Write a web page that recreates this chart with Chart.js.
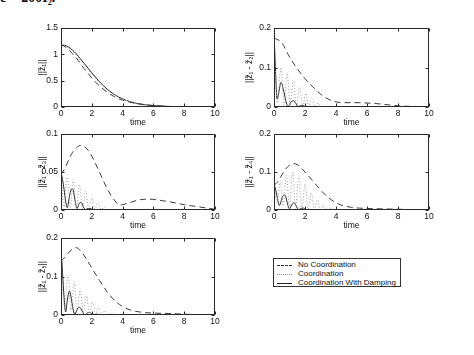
<!DOCTYPE html>
<html><head><meta charset="utf-8">
<script src="https://cdn.jsdelivr.net/npm/chart.js@4/dist/chart.umd.min.js"></script>
<style>
html,body{margin:0;padding:0;background:#fff;}
body{width:474px;height:355px;overflow:hidden;position:relative;font-family:"Liberation Sans",Arial,sans-serif;}
canvas{position:absolute;}
#topText{position:absolute;left:0;top:-9px;font-family:"Liberation Serif","Times New Roman",serif;font-weight:bold;font-size:14px;line-height:14px;white-space:nowrap;color:#111;}
#legend{position:absolute;left:273px;top:258px;width:128px;height:29px;border:1px solid #333;font-size:8px;color:#111;box-sizing:border-box;padding-top:1px;}
.row{position:relative;height:9px;line-height:9px;white-space:nowrap;}
.row span.s{position:absolute;left:3px;top:5px;width:15px;height:0;}
.row span.t{position:absolute;left:24px;top:0;}
</style></head><body>
<div id="topText">c = 200I₂.</div>
<canvas id="c1" width="206" height="108" style="left:21px;top:20px"></canvas>
<canvas id="c2" width="207" height="108" style="left:234px;top:20px"></canvas>
<canvas id="c3" width="206" height="105" style="left:21px;top:126px"></canvas>
<canvas id="c4" width="207" height="105" style="left:234px;top:126px"></canvas>
<canvas id="c5" width="206" height="106" style="left:21px;top:230px"></canvas>
<div id="legend">
  <div class="row"><span class="s" style="border-top:1px dashed #333"></span><span class="t">No Coordination</span></div>
  <div class="row"><span class="s" style="border-top:1px dotted #999"></span><span class="t">Coordination</span></div>
  <div class="row"><span class="s" style="border-top:1px solid #222"></span><span class="t">Coordination With Damping</span></div>
</div>
<script>
// ---- tick labels ----
const xTicks = [0,2,4,6,8,10];
const yTicks1 = [0,0.5,1,1.5];
const yTicks2 = [0,0.1,0.2];
const yTicks3 = [0,0.05,0.1];
const yTicks4 = [0,0.1,0.2];
const yTicks5 = [0,0.1,0.2];
const seriesNames = ['No Coordination','Coordination','Coordination With Damping'];
const yTitles = ['||z\u0303\u2081||','||z\u0303\u2081 - z\u0303\u2082||','||z\u0303\u2081 - z\u0303\u2083||','||z\u0303\u2081 - z\u0303\u2084||','||z\u0303\u2081 - z\u0303\u2085||'];

// ---- plot 1: ||z1|| ----
const t1 = [0,0.25,0.5,0.75,1,1.25,1.5,1.75,2,2.5,3,3.5,4,4.5,5,5.5,6,7,8,9,10];
const z1NoCoord = [1.18,1.15,1.09,1.01,0.93,0.83,0.73,0.64,0.55,0.40,0.28,0.19,0.13,0.09,0.06,0.04,0.025,0.01,0.004,0.002,0.001];
const z1Coord   = [1.18,1.16,1.12,1.06,0.98,0.89,0.80,0.71,0.62,0.46,0.32,0.22,0.15,0.10,0.064,0.041,0.026,0.01,0.004,0.002,0.001];
const z1Damped  = [1.18,1.17,1.14,1.08,1.01,0.92,0.83,0.74,0.65,0.48,0.34,0.23,0.155,0.10,0.065,0.042,0.027,0.011,0.005,0.002,0.001];

// ---- plot 2: ||z1 - z2|| ----
const t12NoCoord = [0,0.5,1,1.5,2,2.5,3,3.5,4,4.5,5,5.5,6,6.5,7,7.5,8,8.5,9,9.5,10];
const d12NoCoord = [0.175,0.163,0.127,0.097,0.072,0.051,0.033,0.020,0.013,0.011,0.011,0.011,0.010,0.009,0.007,0.005,0.003,0.002,0.0015,0.001,0.001];
const t12Coord = [0,0.22,0.45,0.65,0.85,1.05,1.25,1.45,1.65,1.85,2.05,2.25,2.45,2.65,2.85,3.1,3.5,10];
const d12Coord = [0.175,0.01,0.1,0.005,0.085,0.003,0.068,0.002,0.05,0.001,0.035,0.001,0.02,0.0005,0.01,0,0,0];
const t12Damped = [0,0.05,0.1,0.15,0.2,0.3,0.4,0.45,0.5,0.6,0.7,0.8,0.9,1.0,1.1,1.25,1.4,1.55,1.7,1.85,2.0,2.2,3,10];
const d12Damped = [0.175,0.14,0.09,0.045,0.02,0.035,0.057,0.062,0.06,0.045,0.027,0.01,0.001,0.006,0.013,0.016,0.01,0.001,0.003,0.004,0.001,0,0,0];

// ---- plot 3: ||z1 - z3|| ----
const t13NoCoord = [0,0.25,0.5,0.75,1,1.25,1.5,1.75,2,2.5,3,3.5,3.8,4,4.5,5,5.5,6,6.5,7,7.5,8,8.5,9,9.5,10];
const d13NoCoord = [0.047,0.055,0.066,0.076,0.082,0.085,0.084,0.079,0.071,0.05,0.028,0.012,0.0065,0.007,0.01,0.013,0.0142,0.014,0.0125,0.011,0.009,0.007,0.0055,0.004,0.0025,0.001];
const t13Coord = [0,0.2,0.4,0.6,0.8,1.0,1.2,1.4,1.6,1.8,2.0,2.2,2.4,2.6,2.8,3.0,3.4,10];
const d13Coord = [0.05,0.004,0.045,0.003,0.04,0.003,0.033,0.002,0.025,0.002,0.017,0.001,0.01,0.0005,0.004,0,0,0];
const t13Damped = [0,0.1,0.2,0.3,0.4,0.5,0.6,0.7,0.75,0.8,0.9,1.0,1.05,1.15,1.25,1.35,1.45,1.6,1.75,1.9,2.05,2.2,3,10];
const d13Damped = [0.05,0.04,0.027,0.012,0.003,0.012,0.023,0.028,0.028,0.026,0.014,0.004,0.002,0.007,0.01,0.009,0.004,0.0005,0.002,0.002,0.0005,0,0,0];

// ---- plot 4: ||z1 - z4|| ----
const t14NoCoord = [0,0.25,0.5,0.75,1,1.25,1.5,2,2.5,3,3.5,4,4.5,5,5.5,6,7,8,9,10];
const d14NoCoord = [0.065,0.075,0.092,0.108,0.118,0.122,0.12,0.1,0.077,0.053,0.033,0.019,0.011,0.007,0.005,0.004,0.003,0.002,0.001,0.0005];
const t14Coord = [0,0.2,0.4,0.6,0.8,1.0,1.2,1.4,1.6,1.8,2.0,2.2,2.4,2.6,2.8,3.0,3.2,3.4,3.6,3.9,10];
const d14Coord = [0.068,0.02,0.075,0.01,0.092,0.006,0.1,0.004,0.09,0.003,0.068,0.002,0.045,0.001,0.027,0.001,0.013,0.0005,0.005,0,0];
const t14Damped = [0,0.1,0.2,0.3,0.35,0.45,0.55,0.65,0.75,0.85,0.95,1.0,1.1,1.2,1.3,1.4,1.5,1.6,1.75,1.9,2.05,2.2,3,10];
const d14Damped = [0.068,0.055,0.035,0.016,0.012,0.022,0.035,0.04,0.036,0.02,0.006,0.003,0.01,0.017,0.019,0.014,0.005,0.001,0.004,0.005,0.001,0,0,0];

// ---- plot 5: ||z1 - z5|| ----
const t15NoCoord = [0,0.25,0.5,0.75,1,1.25,1.5,2,2.5,3,3.5,4,4.5,5,5.5,6,7,8,9,10];
const d15NoCoord = [0.14,0.15,0.162,0.172,0.175,0.168,0.155,0.122,0.09,0.06,0.037,0.022,0.013,0.0085,0.006,0.005,0.004,0.002,0.001,0.0005];
const t15Coord = [0,0.22,0.45,0.65,0.85,1.05,1.25,1.45,1.65,1.85,2.05,2.25,2.45,2.65,2.85,3.05,3.25,3.5,10];
const d15Coord = [0.145,0.02,0.105,0.01,0.085,0.006,0.068,0.004,0.05,0.003,0.035,0.002,0.022,0.001,0.011,0.0005,0.004,0,0];
const t15Damped = [0,0.05,0.1,0.2,0.3,0.4,0.5,0.55,0.6,0.7,0.8,0.9,1.0,1.1,1.2,1.3,1.4,1.55,1.7,1.85,2.0,2.1,2.3,2.45,2.6,3,10];
const d15Damped = [0.145,0.14,0.11,0.045,0.008,0.035,0.058,0.062,0.058,0.035,0.012,0.002,0.01,0.018,0.02,0.016,0.008,0.0005,0.005,0.007,0.003,0.0003,0.002,0.0015,0,0,0];

const FONT = '"Liberation Sans", Arial, Helvetica, sans-serif';
const pts = (xs, ys) => xs.map((x,i)=>({x:x, y:ys[i]}));

const boxTicks = {
  id:'boxTicks',
  afterDraw(chart){
    const {ctx, chartArea:a, scales:{x,y}} = chart;
    ctx.save();
    ctx.strokeStyle='#2a2a2a'; ctx.lineWidth=1;
    const L=Math.round(a.left)+0.5, R=Math.round(a.right)-0.5, T=Math.round(a.top)+0.5, B=Math.round(a.bottom)-0.5;
    ctx.strokeRect(L,T,R-L,B-T);
    ctx.beginPath();
    x.ticks.forEach(t=>{const p=Math.round(x.getPixelForValue(t.value))+0.5; ctx.moveTo(p,B); ctx.lineTo(p,B-3); ctx.moveTo(p,T); ctx.lineTo(p,T+3);});
    y.ticks.forEach(t=>{const p=Math.round(y.getPixelForValue(t.value))+0.5; ctx.moveTo(L,p); ctx.lineTo(L+3,p); ctx.moveTo(R,p); ctx.lineTo(R-3,p);});
    ctx.stroke(); ctx.restore();
  }
};

function makeChart(id, series, yTicks, yTitle, titlePad){
  const styles = [
    {borderColor:'#3a3a3a', borderDash:[6,4]},
    {borderColor:'#a0a0a0', borderDash:[1,2]},
    {borderColor:'#262626', borderDash:[]}
  ];
  new Chart(document.getElementById(id), {
    type:'scatter',
    data:{datasets: series.map((s,i)=>Object.assign({
      label: seriesNames[i], data: pts(s[0], s[1]), showLine:true, pointRadius:0,
      borderWidth:1, cubicInterpolationMode:'monotone', fill:false
    }, styles[i]))},
    options:{
      responsive:false, animation:false, events:[],
      layout:{padding:{top:7,right:12,left:0,bottom:0}, autoPadding:false},
      plugins:{legend:{display:false}, tooltip:{enabled:false}},
      scales:{
        x:{type:'linear', min:0, max:10,
          afterBuildTicks:s=>{s.ticks = xTicks.map(v=>({value:v}));},
          afterFit:s=>{s.height = 21;},
          grid:{display:false, drawTicks:false, tickLength:0}, border:{display:false},
          ticks:{padding:2, color:'#111', font:{family:FONT, size:8.5}, maxRotation:0, autoSkip:false, callback:v=>String(v)},
          title:{display:true, text:'time', color:'#111', font:{family:FONT, size:8.5}, padding:0}
        },
        y:{type:'linear', min:0, max:yTicks[yTicks.length-1],
          afterBuildTicks:s=>{s.ticks = yTicks.map(v=>({value:v}));},
          afterFit:s=>{s.width = 40;},
          grid:{display:false, drawTicks:false, tickLength:0}, border:{display:false},
          ticks:{padding:3, color:'#111', font:{family:FONT, size:8.5}, autoSkip:false, callback:v=>String(+v.toFixed(3))},
          title:{display:true, text:yTitle, color:'#111', font:{family:FONT, size:8.5}, padding:{top:titlePad, bottom:0}}
        }
      }
    },
    plugins:[boxTicks]
  });
}

makeChart('c1', [[t1,z1NoCoord],[t1,z1Coord],[t1,z1Damped]], yTicks1, yTitles[0], 17);
makeChart('c2', [[t12NoCoord,d12NoCoord],[t12Coord,d12Coord],[t12Damped,d12Damped]], yTicks2, yTitles[1], 11);
makeChart('c3', [[t13NoCoord,d13NoCoord],[t13Coord,d13Coord],[t13Damped,d13Damped]], yTicks3, yTitles[2], 17);
makeChart('c4', [[t14NoCoord,d14NoCoord],[t14Coord,d14Coord],[t14Damped,d14Damped]], yTicks4, yTitles[3], 11);
makeChart('c5', [[t15NoCoord,d15NoCoord],[t15Coord,d15Coord],[t15Damped,d15Damped]], yTicks5, yTitles[4], 17);
</script>
</body></html>
